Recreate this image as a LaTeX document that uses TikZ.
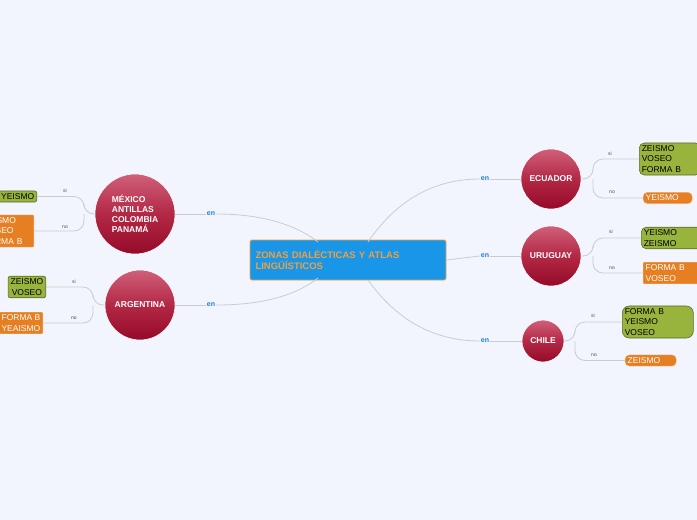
\documentclass[tikz,border=0pt]{standalone}
\usepackage{fontspec}
\setmainfont{Liberation Sans}
\begin{document}
\begin{tikzpicture}[x=1pt,y=-1pt,
  circ/.style={circle,draw=white,line width=0.6pt,top color=crTop,bottom color=crBot,middle color=crMid,text=white,font=\bfseries\fontsize{8.5}{10}\selectfont,align=left,inner sep=0pt},
  en/.style={text=enC,font=\bfseries\fontsize{7}{8}\selectfont,inner sep=1pt},
  lab/.style={font=\fontsize{5}{6}\selectfont,text=black!70,inner sep=0pt},
  gleaf/.style={draw=gBd,line width=0.6pt,fill=gF,rounded corners=2pt,font=\fontsize{8.5}{10.5}\selectfont,align=left,inner sep=2.5pt,anchor=west},
  oleaf/.style={fill=oF,draw=oF!60,rounded corners=1pt,text=white,font=\fontsize{8.5}{10.5}\selectfont,align=left,inner sep=2.5pt,anchor=west},
  con/.style={draw=gray!40,line width=0.8pt},
]
\definecolor{bgc}{HTML}{F2F5FD}
\definecolor{crTop}{HTML}{D0607A}
\definecolor{crMid}{HTML}{B22845}
\definecolor{crBot}{HTML}{950A28}
\definecolor{enC}{HTML}{1A7FE0}
\definecolor{gBd}{HTML}{5C6B2C}
\definecolor{gF}{HTML}{98B43C}
\definecolor{oF}{HTML}{E67E22}
\definecolor{cB}{HTML}{1A96E8}
\definecolor{cO}{HTML}{F0A040}
\fill[bgc] (0,0) rectangle (697,520);
\useasboundingbox (0,0) rectangle (697,520);
\clip (0,0) rectangle (697,520);
% central
\node[draw=cO,line width=0.8pt,fill=cB,rounded corners=2pt,minimum width=196pt,minimum height=40pt,text=cO,font=\bfseries\fontsize{9.5}{10.5}\selectfont,align=left,text width=185pt] (c) at (348,260) {ZONAS DIALÉCTICAS Y ATLAS\\LINGÜÍSTICOS};
% circles
\node[circ,minimum size=80pt] (mx) at (135,214) {MÉXICO\\ANTILLAS\\COLOMBIA\\PANAMÁ};
\node[circ,minimum size=70pt] (ar) at (140,305) {ARGENTINA};
\node[circ,minimum size=60pt] (ec) at (551,179) {ECUADOR};
\node[circ,minimum size=60pt] (ur) at (551,256) {URUGUAY};
\node[circ,minimum size=42pt] (ch) at (543,341) {CHILE};
% en
\node[en] (e1) at (211,214) {en};
\node[en] (e2) at (211,305) {en};
\node[en] (e3) at (485,179) {en};
\node[en] (e4) at (485,256) {en};
\node[en] (e5) at (485,341) {en};
\begin{scope}[on background layer/.style={}]
\coordinate (c1) at (318,242);
\coordinate (c2) at (318,278);
\coordinate (c3) at (368,242);
\coordinate (c5) at (368,280);
\draw[con] (c1) .. controls (290,220) and (250,214) .. (e1.east);
\draw[con] (c2) .. controls (290,300) and (250,305) .. (e2.east);
\draw[con] (c3) .. controls (400,195) and (440,179) .. (e3.west);
\draw[con] (c.east) -- (e4.west);
\draw[con] (c5) .. controls (400,325) and (440,341) .. (e5.west);
\end{scope}
\draw[con] (e1.west) -- (mx.east);
\draw[con] (e2.west) -- (ar.east);
\draw[con] (e3.east) -- (ec.west);
\draw[con] (e4.east) -- (ur.west);
\draw[con] (e5.east) -- (ch.west);
% leaves
\node[gleaf,anchor=east] (mx1) at (37,196.5) {YEISMO};
\node[oleaf,anchor=east,text width=48pt] (mx2) at (34,231) {ZEISMO\\VOSEO\\FORMA B};
\node[gleaf,anchor=east,align=center] (ar1) at (46,287) {ZEISMO\\VOSEO};
\node[oleaf,anchor=east,align=center] (ar2) at (43,323) {FORMA B\\YEAISMO};
\node[gleaf,text width=56pt,rounded corners=5pt] (ec1) at (639,159) {ZEISMO\\VOSEO\\FORMA B};
\node[oleaf,text width=44pt,rounded corners=4pt] (ec2) at (643,198) {YEISMO};
\node[gleaf,text width=56pt,rounded corners=5pt] (ur1) at (641,238) {YEISMO\\ZEISMO};
\node[oleaf,text width=52pt] (ur2) at (643,273) {FORMA B\\VOSEO};
\node[gleaf,text width=66pt,rounded corners=7pt] (ch1) at (622,322) {FORMA B\\YEISMO\\VOSEO};
\node[oleaf,text width=46pt,rounded corners=4pt] (ch2) at (625,360.5) {ZEISMO};
% brackets
\draw[con,rounded corners=10pt] (mx.west) -- (84,214) -- (84,196.5) -- (mx1.east);
\draw[con,rounded corners=10pt] (84,214) -- (84,231) -- (mx2.east);
\draw[con,rounded corners=10pt] (ar.west) -- (93,305) -- (93,287) -- (ar1.east);
\draw[con,rounded corners=10pt] (93,305) -- (93,323) -- (ar2.east);
\draw[con,rounded corners=10pt] (ec.east) -- (593,179) -- (593,159) -- (ec1.west);
\draw[con,rounded corners=10pt] (593,179) -- (593,198) -- (ec2.west);
\draw[con,rounded corners=10pt] (ur.east) -- (593,256) -- (593,238) -- (ur1.west);
\draw[con,rounded corners=10pt] (593,256) -- (593,273) -- (ur2.west);
\draw[con,rounded corners=10pt] (ch.east) -- (575,341) -- (575,322) -- (ch1.west);
\draw[con,rounded corners=10pt] (575,341) -- (575,360.5) -- (ch2.west);
% si/no
\node[lab] (l1) at (65,191) {si};
\node[lab] (l2) at (65,227) {no};
\node[lab] (l3) at (74,282) {si};
\node[lab] (l4) at (74,318) {no};
\node[lab] (l5) at (610,154) {si};
\node[lab] (l6) at (612,192) {no};
\node[lab] (l7) at (611,232) {si};
\node[lab] (l8) at (612,268) {no};
\node[lab] (l9) at (593,316) {si};
\node[lab] (l10) at (594,355) {no};
\end{tikzpicture}
\end{document}
